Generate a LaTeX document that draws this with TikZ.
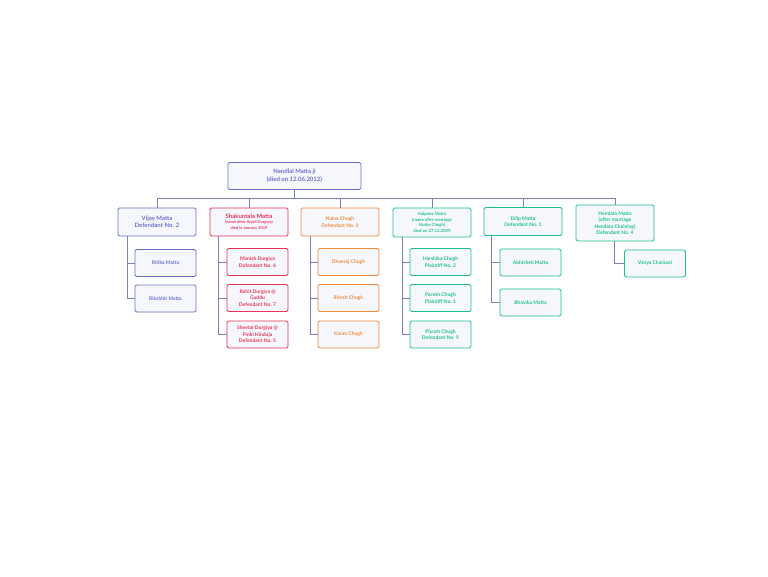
\documentclass[tikz,border=0pt]{standalone}
\usepackage{fontspec}
\setmainfont{Lato}
\definecolor{cb}{HTML}{6D70C9}
\definecolor{cr}{HTML}{E8335A}
\definecolor{co}{HTML}{F08A3C}
\definecolor{ct}{HTML}{1DBF90}
\definecolor{bg}{HTML}{F5F7FC}
\definecolor{ln}{HTML}{7A7FB5}
\tikzset{
 box/.style={draw=#1,text=#1,fill=bg,rounded corners=1.5pt,line width=0.8pt,align=center,font=\fontsize{5}{6.5}\selectfont\bfseries,inner sep=1pt},
 wbox/.style={box=#1,minimum width=78pt,minimum height=28pt},
 cbox/.style={box=#1,minimum width=61pt,minimum height=27pt},
 conn/.style={draw=ln,line width=0.7pt}
}
\begin{document}
\begin{tikzpicture}[x=1pt,y=-1pt]
\useasboundingbox (0,0) rectangle (768,576);
\fill[white] (0,0) rectangle (768,576);
\node[box=cb,minimum width=133pt,minimum height=27pt,font=\fontsize{6}{8}\selectfont\bfseries] (root) at (294.5,176) {Nandlal Matta ji\\(died on 12.06.2012)};
\node[wbox=cb] (v) at (157,222) {\fontsize{6}{7.5}\selectfont Vijay Matta\\\fontsize{6}{7.5}\selectfont Defendant No. 2};
\node[wbox=cr] (s) at (249,222) {\fontsize{6}{7.5}\selectfont Shakuntala Matta\\[-1pt]\fontsize{4}{5}\selectfont (name after Anjali Durgiya)\\[-1pt]\fontsize{4}{5}\selectfont died in January 2019};
\node[wbox=co] (n) at (340,222) {Naina Chugh\\Defendant No. 3};
\node[wbox=ct,minimum height=29pt,font=\fontsize{4.3}{5.5}\selectfont\bfseries] (k) at (432,222.5) {Kalpana Matta\\(name aftre marriage\\Vanha Chugh)\\died on 27.12.2009};
\node[wbox=ct] (d) at (523,221.5) {Dilip Matta\\Defendant No. 1};
\node[wbox=ct,minimum height=36pt] (h) at (615,223) {Hemlata Matta\\(after marriage\\Hemlata Chaining)\\Defendant No. 4};
\coordinate (bl) at (157,198); \coordinate (br) at (615,198);
\draw[conn] (root.south) -- (root.south|-bl);
\draw[conn] (bl) -- (br);
\foreach \p in {v,s,n,k,d,h} \draw[conn] (\p.north|-bl) -- (\p.north);
% children
\node[cbox=cb] (v1) at (165.5,263) {Ritika Matta};
\node[cbox=cb] (v2) at (165.5,298.5) {Rikshhit Matta};
\node[cbox=cr] (s1) at (257.5,262) {Manish Durgiya\\Defendant No. 6};
\node[cbox=cr] (s2) at (257.5,298) {Rohit Durgiya @\\Guddu\\Defendant No. 7};
\node[cbox=cr] (s3) at (257.5,334.5) {Sheetal Durgiya @\\Pinki Hinduja\\Defendant No. 5};
\node[cbox=co] (n1) at (348.5,262) {Dheeraj Chugh};
\node[cbox=co] (n2) at (348.5,298) {Ritesh Chugh};
\node[cbox=co] (n3) at (348.5,334.5) {Karan Chugh};
\node[cbox=ct] (k1) at (440.5,262) {Harshika Chugh\\Plaintiff No. 2};
\node[cbox=ct] (k2) at (440.5,298) {Paresh Chugh\\Plaintiff No. 1};
\node[cbox=ct] (k3) at (440.5,334.5) {Piyush Chugh\\Defendant No. 9};
\node[cbox=ct] (d1) at (530.5,262.5) {Abhishek Matta};
\node[cbox=ct] (d2) at (530.5,302.5) {Bhavika Matta};
\node[cbox=ct] (h1) at (655,263.5) {Vanya Chainani};
\draw[conn] (127,236) |- (v1.west); \draw[conn] (127,236) |- (v2.west);
\draw[conn] (218,236) |- (s1.west); \draw[conn] (218,236) |- (s2.west); \draw[conn] (218,236) |- (s3.west);
\draw[conn] (310,236) |- (n1.west); \draw[conn] (310,236) |- (n2.west); \draw[conn] (310,236) |- (n3.west);
\draw[conn] (402,237) |- (k1.west); \draw[conn] (402,237) |- (k2.west); \draw[conn] (402,237) |- (k3.west);
\draw[conn] (491,235.5) |- (d1.west); \draw[conn] (491,235.5) |- (d2.west);
\draw[conn] (614,241) |- (h1.west);
\end{tikzpicture}
\end{document}
